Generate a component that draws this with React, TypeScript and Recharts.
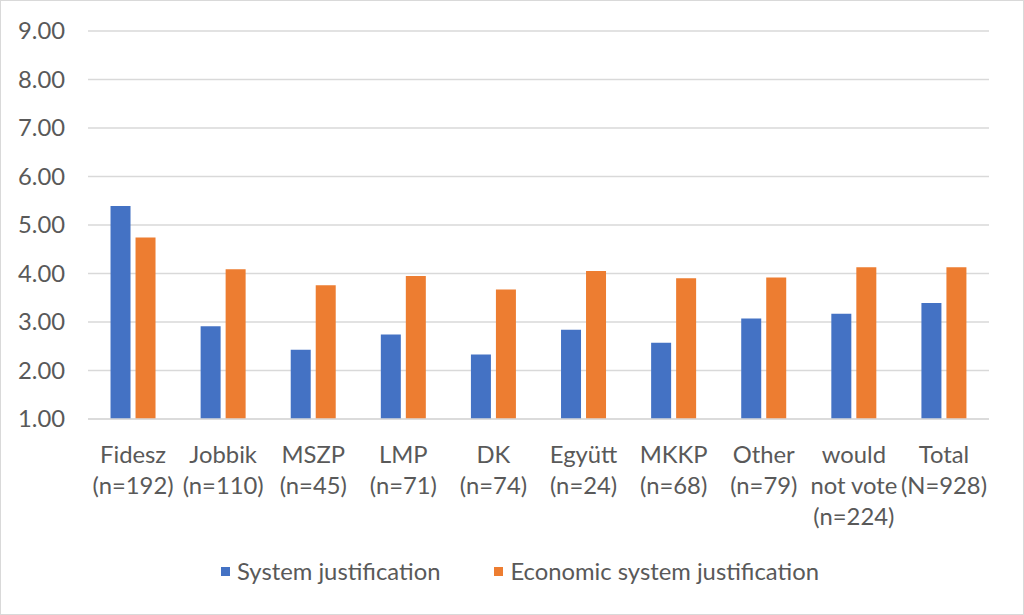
import React from 'react';
import { BarChart, Bar, XAxis, YAxis, CartesianGrid, Legend } from 'recharts';

const categories = [
  'Fidesz\n(n=192)',
  'Jobbik\n(n=110)',
  'MSZP\n(n=45)',
  'LMP\n(n=71)',
  'DK\n(n=74)',
  'Együtt\n(n=24)',
  'MKKP\n(n=68)',
  'Other\n(n=79)',
  'would\nnot vote\n(n=224)',
  'Total\n(N=928)',
];
const systemJustification = [5.39, 2.91, 2.43, 2.74, 2.33, 2.84, 2.57, 3.07, 3.17, 3.39];
const economicJustification = [4.74, 4.09, 3.76, 3.95, 3.67, 4.05, 3.90, 3.92, 4.13, 4.13];
const yTicks = [1, 2, 3, 4, 5, 6, 7, 8, 9];

const data = categories.map((c, i) => ({
  name: c,
  sj: systemJustification[i],
  esj: economicJustification[i],
}));

const FONT = 'Lato, "Noto Sans", sans-serif';
const TEXT = '#595959';
const FS = 23.8;

const CategoryTick = (props: any) => {
  const { x, y, payload } = props;
  const lines = String(payload.value).split('\n');
  return (
    <g transform={`translate(${x},${y})`}>
      {lines.map((l, i) => (
        <text key={i} x={0} y={i * 31} dy={36} textAnchor="middle" fill={TEXT} fontSize={FS} fontFamily={FONT}>
          {l}
        </text>
      ))}
    </g>
  );
};

const LegendContent = () => (
  <div style={{ display: 'flex', justifyContent: 'center', alignItems: 'center', fontFamily: FONT, fontSize: FS, color: TEXT, paddingTop: 18, paddingLeft: 50 }}>
    <span style={{ display: 'inline-block', width: 9, height: 9, background: '#4472C4', marginRight: 7 }} />
    <span style={{ marginRight: 54 }}>System justification</span>
    <span style={{ display: 'inline-block', width: 9, height: 9, background: '#ED7D31', marginRight: 7 }} />
    <span>Economic system justification</span>
  </div>
);

export default function App() {
  return (
    <div style={{ position: 'absolute', left: 0, top: 0, width: 1022, height: 613, border: '1px solid #d9d9d9', background: '#fff' }}>
      <BarChart
        width={1022}
        height={613}
        data={data}
        margin={{ top: 30, right: 34, left: 0, bottom: 0 }}
        barCategoryGap="25%"
        barGap={5}
      >
        <CartesianGrid vertical={false} stroke="#d9d9d9" strokeWidth={1.5} />
        <XAxis
          dataKey="name"
          interval={0}
          height={120}
          tick={<CategoryTick />}
          tickLine={false}
          axisLine={{ stroke: '#d9d9d9', strokeWidth: 1.5 }}
        />
        <YAxis
          width={87}
          domain={[1, 9]}
          ticks={yTicks}
          tickFormatter={(v: number) => v.toFixed(2)}
          axisLine={false}
          tickLine={false}
          tickSize={0}
          tickMargin={23}
          tick={{ fill: TEXT, fontSize: FS, fontFamily: FONT }}
        />
        <Legend verticalAlign="bottom" height={75} content={<LegendContent />} />
        <Bar dataKey="sj" name="System justification" fill="#4472C4" isAnimationActive={false} />
        <Bar dataKey="esj" name="Economic system justification" fill="#ED7D31" isAnimationActive={false} />
      </BarChart>
    </div>
  );
}
